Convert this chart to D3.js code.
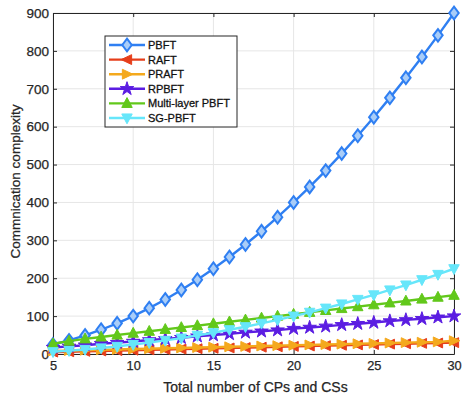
<!DOCTYPE html>
<html>
<head>
<meta charset="utf-8">
<script src="https://cdn.jsdelivr.net/npm/d3@7"></script>
<style>
  body { margin: 0; background: #fff; }
  text { font-family: "Liberation Sans", Arial, sans-serif; }
</style>
</head>
<body>
<div id="chart"></div>
<script>
// data
var nodes = [5, 6, 7, 8, 9, 10, 11, 12, 13, 14, 15, 16, 17, 18, 19, 20, 21, 22, 23, 24, 25, 26, 27, 28, 29, 30];
var pbft = [25, 36, 49, 64, 81, 100, 121, 144, 169, 196, 225, 256, 289, 324, 361, 400, 441, 484, 529, 576, 625, 676, 729, 784, 841, 900];
var raft = [5, 6, 7, 8, 9, 10, 11, 12, 13, 14, 15, 16, 17, 18, 19, 20, 21, 22, 23, 24, 25, 26, 27, 28, 29, 30];
var praft = [8, 9, 10, 11, 12, 13, 14, 15, 16, 17, 18, 19, 20, 21, 22, 23, 24, 25, 26, 27, 28, 29, 30, 31, 32, 35];
var rpbft = [17, 20, 23, 27, 30, 33, 37, 40, 43, 47, 50, 53, 57, 60, 63, 67, 70, 73, 77, 80, 83, 87, 90, 93, 97, 100];
var multiLayer = [27, 34, 40, 45, 50, 55, 60, 65, 70, 75, 80, 85, 90, 95, 100, 105, 110, 115, 120, 125, 130, 135, 140, 145, 150, 155];
var sgPbft = [6, 9, 12, 16, 20, 25, 30, 36, 42, 49, 56, 64, 72, 81, 90, 100, 110, 121, 132, 144, 156, 169, 182, 196, 210, 225];
var xTicks = [5, 10, 15, 20, 25, 30];
var yTicks = [0, 100, 200, 300, 400, 500, 600, 700, 800, 900];

var series = [
  { name: "PBFT", values: pbft, color: "#2f7ff2", marker: "diamond" },
  { name: "RAFT", values: raft, color: "#e63e1a", marker: "left" },
  { name: "PRAFT", values: praft, color: "#f4a91d", marker: "right" },
  { name: "RPBFT", values: rpbft, color: "#5b1de2", marker: "star" },
  { name: "Multi-layer PBFT", values: multiLayer, color: "#62c81b", marker: "up" },
  { name: "SG-PBFT", values: sgPbft, color: "#66e6fa", marker: "down" }
];

var svgWidth = 474;
var svgHeight = 400;
var margin = { top: 13, right: 20, bottom: 46, left: 53 };
var width = 454 - margin.left;
var height = 354 - margin.top;

var svg = d3.select("#chart")
  .append("svg")
  .attr("width", svgWidth)
  .attr("height", svgHeight);

var chartGroup = svg.append("g")
  .attr("transform", `translate(${margin.left}, ${margin.top})`);

var xScale = d3.scaleLinear().domain([5, 30]).range([0, width]);
var yScale = d3.scaleLinear().domain([0, 900]).range([height, 0]);

// grid
chartGroup.append("g")
  .selectAll("line")
  .data(xTicks)
  .enter()
  .append("line")
  .attr("x1", d => xScale(d))
  .attr("x2", d => xScale(d))
  .attr("y1", 0)
  .attr("y2", height)
  .attr("stroke", "#e6e6e6")
  .attr("stroke-width", 1);

chartGroup.append("g")
  .selectAll("line")
  .data(yTicks)
  .enter()
  .append("line")
  .attr("x1", 0)
  .attr("x2", width)
  .attr("y1", d => yScale(d))
  .attr("y2", d => yScale(d))
  .attr("stroke", "#e6e6e6")
  .attr("stroke-width", 1);

// axes, ticks inside like matlab
var xAxis = d3.axisBottom(xScale).tickValues(xTicks).tickSizeInner(-4).tickSizeOuter(0).tickPadding(7);
var yAxis = d3.axisLeft(yScale).tickValues(yTicks).tickSizeInner(-4).tickSizeOuter(0).tickPadding(4);
var xTop = d3.axisTop(xScale).tickValues(xTicks).tickSizeInner(-4).tickSizeOuter(0).tickFormat("");
var yRight = d3.axisRight(yScale).tickValues(yTicks).tickSizeInner(-4).tickSizeOuter(0).tickFormat("");

function styleAxis(g, size) {
  g.selectAll("path").attr("stroke", "#262626").attr("stroke-width", 1);
  g.selectAll("line").attr("stroke", "#262626");
  g.selectAll("text").attr("fill", "#262626").attr("font-size", size)
    .attr("stroke", "#262626").attr("stroke-width", 0.25)
    .attr("font-family", "Liberation Sans, Arial, sans-serif");
}

chartGroup.append("g").attr("transform", `translate(0, ${height})`).call(xAxis).call(styleAxis, "12.8px");
chartGroup.append("g").call(yAxis).call(styleAxis, "13.5px");
chartGroup.append("g").call(xTop).call(styleAxis, "12px");
chartGroup.append("g").attr("transform", `translate(${width}, 0)`).call(yRight).call(styleAxis, "12px");

// axis labels
chartGroup.append("text")
  .attr("transform", "rotate(-90)")
  .attr("x", -(height / 2) + 2)
  .attr("y", -margin.left + 20)
  .attr("text-anchor", "middle")
  .attr("font-size", "13.5px")
  .attr("fill", "#262626")
  .attr("stroke", "#262626")
  .attr("stroke-width", 0.25)
  .text("Commnication complexity");

chartGroup.append("text")
  .attr("x", width / 2 + 2)
  .attr("y", height + 38)
  .attr("text-anchor", "middle")
  .attr("font-size", "14px")
  .attr("fill", "#262626")
  .attr("stroke", "#262626")
  .attr("stroke-width", 0.25)
  .text("Total number of CPs and CSs");

// marker shapes
function markerPath(type, s) {
  if (type === "diamond") return `M0,${-s}L${s * 0.75},0L0,${s}L${-s * 0.75},0Z`;
  if (type === "left") return `M${-s},0L${s * 0.8},${-s * 0.85}L${s * 0.8},${s * 0.85}Z`;
  if (type === "right") return `M${s},0L${-s * 0.8},${-s * 0.85}L${-s * 0.8},${s * 0.85}Z`;
  if (type === "up") return `M0,${-s}L${s * 0.9},${s * 0.7}L${-s * 0.9},${s * 0.7}Z`;
  if (type === "down") return `M0,${s}L${s * 0.9},${-s * 0.7}L${-s * 0.9},${-s * 0.7}Z`;
  return d3.symbol().type(d3.symbolStar).size(s * s * 1.7)();
}

var line = d3.line()
  .x((d, i) => xScale(nodes[i]))
  .y(d => yScale(d));

var plot = chartGroup.append("g");

series.forEach(function(s) {
  var g = plot.append("g");
  g.append("path")
    .datum(s.values)
    .attr("d", line)
    .attr("fill", "none")
    .attr("stroke", s.color)
    .attr("stroke-width", 2.4);

  g.selectAll("path.marker")
    .data(s.values)
    .enter()
    .append("path")
    .attr("class", "marker")
    .attr("transform", (d, i) => `translate(${xScale(nodes[i])}, ${yScale(d)})`)
    .attr("d", markerPath(s.marker, s.marker === "diamond" ? 6.3 : 5.8))
    .attr("fill", s.marker === "diamond" ? "#a9cdf8" : s.color)
    .attr("stroke", s.color)
    .attr("stroke-width", s.marker === "diamond" ? 2 : 1);
});

// legend
var legend = svg.append("g").attr("transform", "translate(105, 36)");
legend.append("rect")
  .attr("width", 132)
  .attr("height", 91)
  .attr("fill", "#fff")
  .attr("stroke", "#262626")
  .attr("stroke-width", 1);

var items = legend.selectAll("g.item")
  .data(series)
  .enter()
  .append("g")
  .attr("class", "item")
  .attr("transform", (d, i) => `translate(0, ${9 + i * 14.6})`);

items.append("line")
  .attr("x1", 4)
  .attr("x2", 40)
  .attr("stroke", d => d.color)
  .attr("stroke-width", 2.4);

items.append("path")
  .attr("transform", "translate(22, 0)")
  .attr("d", d => markerPath(d.marker, d.marker === "diamond" ? 6.3 : 5.8))
  .attr("fill", d => d.marker === "diamond" ? "#a9cdf8" : d.color)
  .attr("stroke", d => d.color)
  .attr("stroke-width", d => d.marker === "diamond" ? 2 : 1);

items.append("text")
  .attr("x", 43)
  .attr("y", 4)
  .attr("font-size", "11px")
  .attr("fill", "#111")
  .attr("stroke", "#111")
  .attr("stroke-width", 0.3)
  .text(d => d.name);
</script>
</body>
</html>
